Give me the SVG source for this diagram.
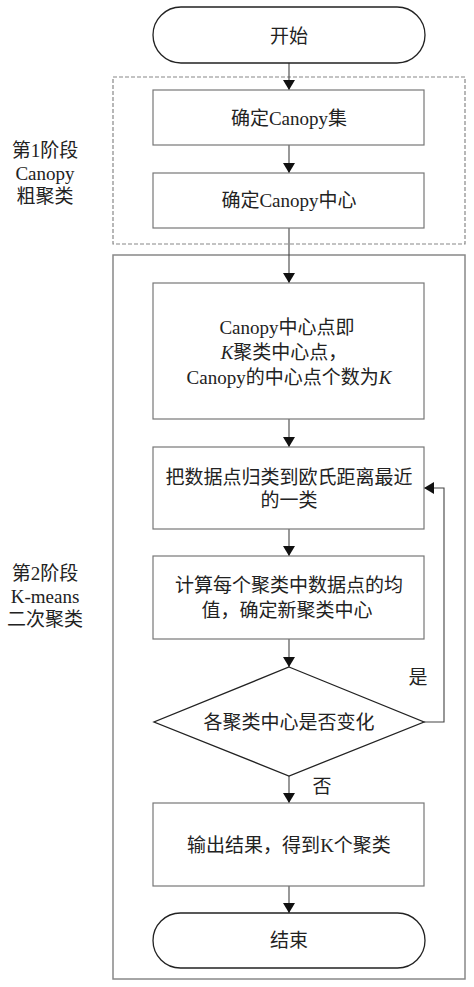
<svg xmlns="http://www.w3.org/2000/svg" width="474" height="987" viewBox="0 0 474 987">
<defs>
<marker id="ah" markerWidth="10" markerHeight="12" refX="10" refY="6" orient="auto" markerUnits="userSpaceOnUse">
<path d="M0,0 L10,6 L0,12 Z" fill="#111"/>
</marker>
</defs>
<style>
text{font-family:"Liberation Serif","Noto Sans CJK SC",serif;font-size:19px;fill:#222;text-anchor:middle;dominant-baseline:central}
.lat{font-family:"Liberation Serif",serif}
.box{fill:#fff;stroke:#777;stroke-width:1.2}
.term{fill:#fff;stroke:#222;stroke-width:1.3}
.con{fill:none;stroke:#444;stroke-width:1.1}
.k{font-style:italic;font-family:"Liberation Serif",serif}
</style>
<rect x="113" y="77" width="352" height="167" fill="none" stroke="#888" stroke-width="1.2" stroke-dasharray="4,2"/>
<rect x="113" y="255" width="352" height="724" fill="none" stroke="#888" stroke-width="1.5"/>
<g id="stage1">
<text x="45" y="150">第<tspan class="lat">1</tspan>阶段</text>
<text x="45" y="173" class="lat">Canopy</text>
<text x="45" y="196">粗聚类</text>
</g>
<g id="stage2">
<text x="45" y="573">第<tspan class="lat">2</tspan>阶段</text>
<text x="45" y="596" class="lat">K-means</text>
<text x="45" y="619">二次聚类</text>
</g>
<g id="connectors">
<line class="con" x1="289" y1="63" x2="289" y2="90" marker-end="url(#ah)"/>
<line class="con" x1="289" y1="145" x2="289" y2="173" marker-end="url(#ah)"/>
<line class="con" x1="289" y1="228" x2="289" y2="283" marker-end="url(#ah)"/>
<line class="con" x1="289" y1="419" x2="289" y2="447" marker-end="url(#ah)"/>
<line class="con" x1="289" y1="529" x2="289" y2="556" marker-end="url(#ah)"/>
<line class="con" x1="289" y1="639" x2="289" y2="667" marker-end="url(#ah)"/>
<line class="con" x1="289" y1="776" x2="289" y2="803" marker-end="url(#ah)"/>
<line class="con" x1="289" y1="886" x2="289" y2="913" marker-end="url(#ah)"/>
<polyline class="con" points="424,722 444,722 444,488 424,488" marker-end="url(#ah)"/>
<text x="418" y="677">是</text>
<text x="322" y="786">否</text>
</g>
<g id="start">
<rect class="term" x="153" y="7" width="272" height="56" rx="28"/>
<text x="289" y="36">开始</text>
</g>
<g id="canopySet">
<rect class="box" x="153" y="90" width="271" height="55"/>
<text x="289" y="118">确定<tspan class="lat">Canopy</tspan>集</text>
</g>
<g id="canopyCenter">
<rect class="box" x="153" y="173" width="271" height="55"/>
<text x="289" y="200">确定<tspan class="lat">Canopy</tspan>中心</text>
</g>
<g id="kCenters">
<rect class="box" x="153" y="283" width="271" height="136"/>
<text x="287" y="327"><tspan class="lat">Canopy</tspan>中心点即</text>
<text x="284" y="352"><tspan class="k">K</tspan>聚类中心点，</text>
<text x="289" y="377"><tspan class="lat">Canopy</tspan>的中心点个数为<tspan class="k">K</tspan></text>
</g>
<g id="assign">
<rect class="box" x="153" y="447" width="271" height="82"/>
<text x="289" y="477">把数据点归类到欧氏距离最近</text>
<text x="289" y="500">的一类</text>
</g>
<g id="mean">
<rect class="box" x="153" y="556" width="271" height="83"/>
<text x="289" y="585">计算每个聚类中数据点的均</text>
<text x="287" y="610">值，确定新聚类中心</text>
</g>
<g id="decision">
<polygon points="289,667 424,722 289,776 154,722" fill="#fff" stroke="#222" stroke-width="1.3"/>
<text x="289" y="722">各聚类中心是否变化</text>
</g>
<g id="output">
<rect class="box" x="153" y="803" width="271" height="83"/>
<text x="289" y="845">输出结果，得到<tspan class="lat">K</tspan>个聚类</text>
</g>
<g id="end">
<rect class="term" x="153" y="913" width="272" height="55" rx="27.5"/>
<text x="289" y="940">结束</text>
</g>
</svg>
